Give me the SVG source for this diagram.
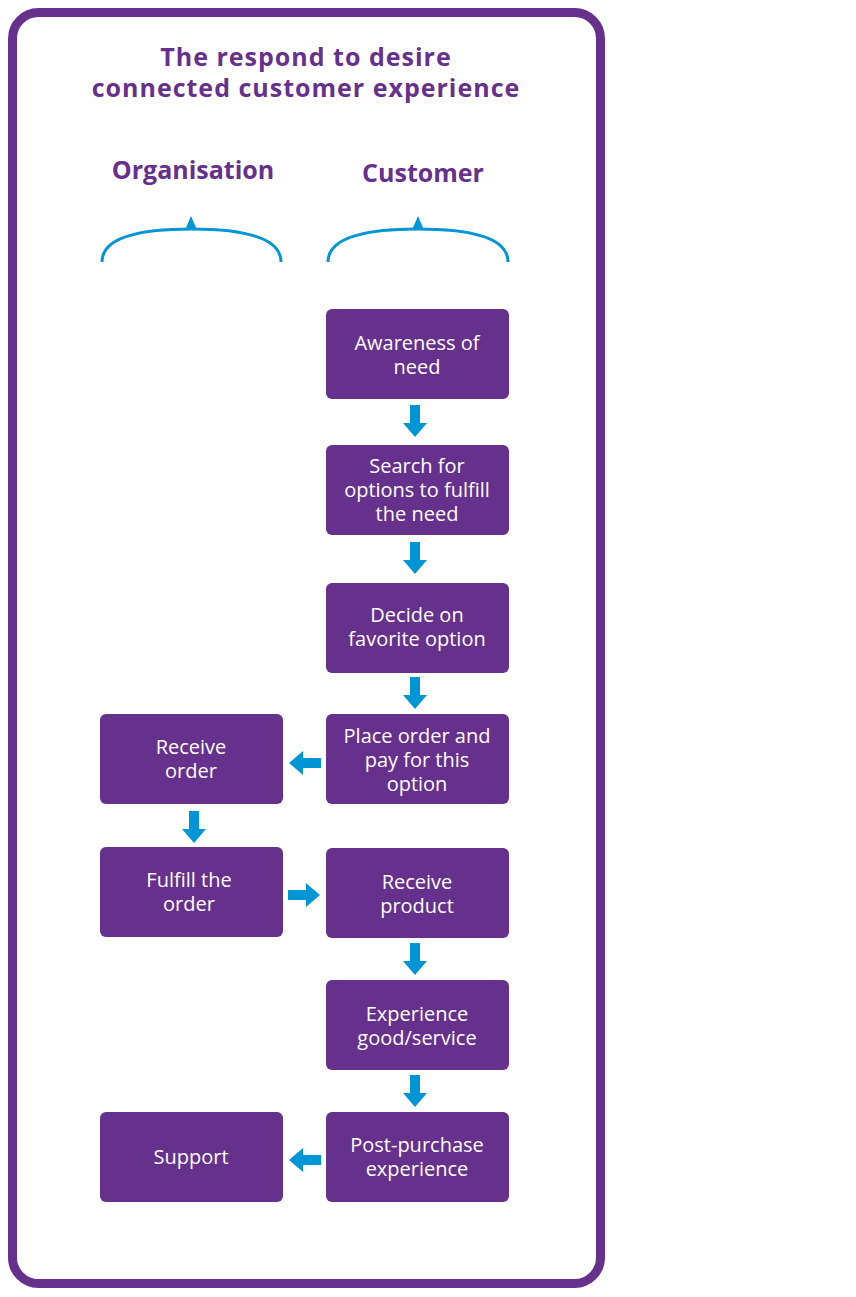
<svg xmlns="http://www.w3.org/2000/svg" width="856" height="1297" viewBox="0 0 856 1297">
<style>
.box{fill:#66308d}
.t{font-family:"Open Sans",sans-serif;font-size:20px;fill:#fff;text-anchor:middle}
.h{font-family:"Open Sans",sans-serif;font-size:25px;font-weight:bold;fill:#66308d;text-anchor:middle}
.arc{fill:none;stroke:#0096d6;stroke-width:3}
.ar{fill:#0096d6}
</style>
<defs>
<path id="down" d="M-5,0 H5 V18 H12 L0,32 L-12,18 H-5 Z"/>
</defs>
<rect x="12.5" y="12.5" width="588" height="1271" rx="26" fill="#fff" stroke="#66308d" stroke-width="9"/>
<g id="title"><text class="h" x="306" y="66" font-size="24" letter-spacing="1">The respond to desire</text>
<text class="h" x="306" y="97" font-size="24" letter-spacing="1">connected customer experience</text></g>
<g id="hdr-org"><text class="h" x="193" y="179">Organisation</text>
<path class="arc" d="M102,262 Q102,229 191,229 Q281,229 281,262"/><path class="ar" d="M185,230 L191,216 L197,230 Z"/></g>
<g id="hdr-cust"><text class="h" x="423" y="182">Customer</text>
<path class="arc" d="M328,262 Q328,229 418,229 Q508,229 508,262"/><path class="ar" d="M412,230 L418,216 L424,230 Z"/></g>
<g id="n1"><rect class="box" x="326" y="309" width="183" height="90" rx="6"/><text class="t" x="417" y="350">Awareness of</text><text class="t" x="417" y="374">need</text></g>
<g id="n2"><rect class="box" x="326" y="445" width="183" height="90" rx="6"/><text class="t" x="417" y="473">Search for</text><text class="t" x="417" y="497">options to fulfill</text><text class="t" x="417" y="521">the need</text></g>
<g id="n3"><rect class="box" x="326" y="583" width="183" height="90" rx="6"/><text class="t" x="417" y="622">Decide on</text><text class="t" x="417" y="646">favorite option</text></g>
<g id="n4"><rect class="box" x="326" y="714" width="183" height="90" rx="6"/><text class="t" x="417" y="743">Place order and</text><text class="t" x="417" y="767">pay for this</text><text class="t" x="417" y="791">option</text></g>
<g id="n5"><rect class="box" x="326" y="848" width="183" height="90" rx="6"/><text class="t" x="417" y="889">Receive</text><text class="t" x="417" y="913">product</text></g>
<g id="n6"><rect class="box" x="326" y="980" width="183" height="90" rx="6"/><text class="t" x="417" y="1021">Experience</text><text class="t" x="417" y="1045">good/service</text></g>
<g id="n7"><rect class="box" x="326" y="1112" width="183" height="90" rx="6"/><text class="t" x="417" y="1152">Post-purchase</text><text class="t" x="417" y="1176">experience</text></g>
<g id="o1"><rect class="box" x="100" y="714" width="183" height="90" rx="6"/><text class="t" x="191" y="754">Receive</text><text class="t" x="191" y="778">order</text></g>
<g id="o2"><rect class="box" x="100" y="847" width="183" height="90" rx="6"/><text class="t" x="189" y="887">Fulfill the</text><text class="t" x="189" y="911">order</text></g>
<g id="o3"><rect class="box" x="100" y="1112" width="183" height="90" rx="6"/><text class="t" x="191" y="1164">Support</text></g>
<g id="connectors" class="ar">
<use href="#down" x="415" y="405"/>
<use href="#down" x="415" y="542"/>
<use href="#down" x="415" y="677"/>
<use href="#down" x="415" y="943"/>
<use href="#down" x="415" y="1075"/>
<use href="#down" x="194" y="811"/>
<use href="#down" transform="translate(321,763) rotate(90)"/>
<use href="#down" transform="translate(321,1160) rotate(90)"/>
<use href="#down" transform="translate(288,895) rotate(-90)"/>
</g>
</svg>
